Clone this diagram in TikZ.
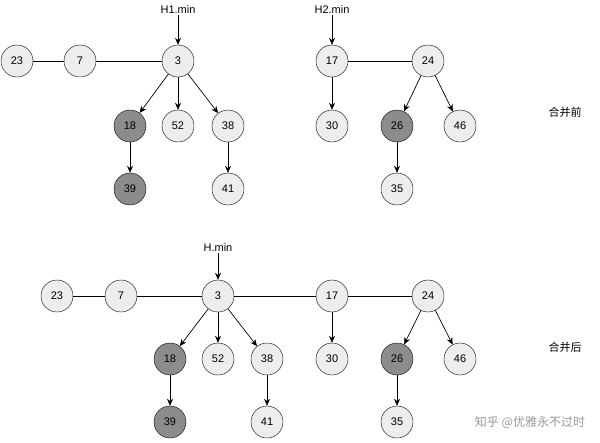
\documentclass[tikz,border=0pt]{standalone}
\usepackage{fontspec}
\setmainfont{Liberation Sans}
\newfontfamily\cjk{Noto Sans CJK SC}
\usetikzlibrary{arrows.meta}
\tikzset{
 nd/.style={circle,draw=black,fill=black!7,minimum size=32pt,inner sep=0pt,font=\fontsize{11}{13}\selectfont},
 dk/.style={nd,fill=black!45},
 ar/.style={-{Stealth[length=7pt,width=6pt]},line width=0.7pt},
 ln/.style={line width=0.7pt},
 lb/.style={font=\fontsize{11}{13}\selectfont,inner sep=1pt}
}
\begin{document}
\begin{tikzpicture}[x=1pt,y=-1pt]
\useasboundingbox[fill=white] (0,0) rectangle (600,442);
% before
\node[nd] (a23) at (17,61) {23};
\node[nd] (a7) at (80,61) {7};
\node[nd] (a3) at (178,61) {3};
\node[nd] (a17) at (332,61) {17};
\node[nd] (a24) at (428,61) {24};
\node[dk] (a18) at (130,126) {18};
\node[nd] (a52) at (178,126) {52};
\node[nd] (a38) at (228,126) {38};
\node[nd] (a30) at (332,126) {30};
\node[dk] (a26) at (397,126) {26};
\node[nd] (a46) at (460,126) {46};
\node[dk] (a39) at (130,189) {39};
\node[nd] (a41) at (228,189) {41};
\node[nd] (a35) at (397,189) {35};
\node[lb] (h1) at (178,10) {H1.min};
\node[lb] (h2) at (332,10) {H2.min};
\node[font=\cjk\fontsize{11}{13}\selectfont] (t1) at (565,112) {合并前};
\draw[ln] (a23)--(a7) (a7)--(a3) (a17)--(a24);
\draw[ar] (h1)--(a3); \draw[ar] (h2)--(a17);
\draw[ar] (a3)--(a18); \draw[ar] (a3)--(a52); \draw[ar] (a3)--(a38);
\draw[ar] (a18)--(a39); \draw[ar] (a38)--(a41);
\draw[ar] (a17)--(a30); \draw[ar] (a24)--(a26); \draw[ar] (a24)--(a46); \draw[ar] (a26)--(a35);
% after
\node[nd] (b23) at (57,296) {23};
\node[nd] (b7) at (121,296) {7};
\node[nd] (b3) at (218,296) {3};
\node[nd] (b17) at (332,296) {17};
\node[nd] (b24) at (428,296) {24};
\node[dk] (b18) at (170,359) {18};
\node[nd] (b52) at (218,359) {52};
\node[nd] (b38) at (267,359) {38};
\node[nd] (b30) at (332,359) {30};
\node[dk] (b26) at (397,359) {26};
\node[nd] (b46) at (460,359) {46};
\node[dk] (b39) at (170,422) {39};
\node[nd] (b41) at (267,422) {41};
\node[nd] (b35) at (397,422) {35};
\node[lb] (h) at (218,248) {H.min};
\node[font=\cjk\fontsize{11}{13}\selectfont] (t2) at (565,347) {合并后};
\node[font=\cjk\fontsize{12}{14}\selectfont,text=black!40] (wm) at (530,422) {知乎 @优雅永不过时};
\draw[ln] (b23)--(b7) (b7)--(b3) (b3)--(b17) (b17)--(b24);
\draw[ar] (h)--(b3);
\draw[ar] (b3)--(b18); \draw[ar] (b3)--(b52); \draw[ar] (b3)--(b38);
\draw[ar] (b18)--(b39); \draw[ar] (b38)--(b41);
\draw[ar] (b17)--(b30); \draw[ar] (b24)--(b26); \draw[ar] (b24)--(b46); \draw[ar] (b26)--(b35);
\end{tikzpicture}
\end{document}
